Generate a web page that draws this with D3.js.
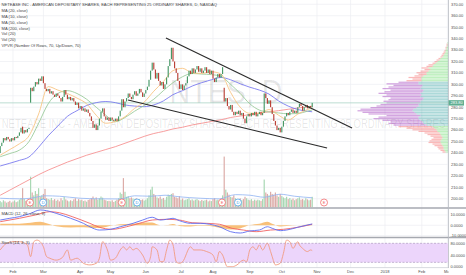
<!DOCTYPE html>
<html><head><meta charset="utf-8">
<script src="https://cdn.jsdelivr.net/npm/d3@7"></script>
<style>html,body{margin:0;padding:0;background:#fff;overflow:hidden}svg{display:block;font-family:"Liberation Sans",Arial,sans-serif}</style>
</head><body><svg id="c" width="466" height="275"></svg>
<script>
// ---------- DATA (daily bars, index 0 = 20 Jan 2017) ----------
const opens = [240,246,249,253,251,254,252,250,253,251,
254,253,255,258,263,257,260,258,261,284,
297,294,298,302,300,305,303,307,301,296,
294,296,292,294,291,289,292,290,288,285,
289,295,291,287,289,286,288,285,282,284,
279,281,277,279,276,278,275,272,268,262,
265,260,264,270,276,279,272,269,271,268,
271,269,268,270,268,272,277,287,280,285,
288,292,289,287,291,294,290,292,296,293,
289,292,295,298,304,312,319,313,305,310,
303,299,302,296,300,306,316,322,332,320,
314,310,303,296,300,295,299,301,307,312,
309,314,310,313,316,311,314,310,312,315,
310,313,309,312,305,302,306,309,306,309,
297,285,288,281,278,282,276,273,276,274,
277,273,275,270,266,272,274,272,275,273,
276,272,274,276,273,275,292,288,283,286,
280,274,268,264,260,262,258,263,268,272,
275,273,276,278,275,277,275,280,283,281,
277,280,282,279,281,280];
const closes = [246,249,253,251,254,252,250,253,251,254,
253,255,258,262,257,260,258,261,262,297,
294,298,302,300,305,303,307,301,296,294,
296,292,294,291,289,292,290,288,285,289,
295,291,287,289,286,288,285,282,284,279,
281,277,279,276,278,275,272,268,262,265,
260,264,270,276,279,272,269,271,268,271,
269,268,270,268,272,277,287,280,285,288,
292,289,287,291,294,290,292,296,293,289,
292,295,298,304,312,319,313,305,310,303,
299,302,296,300,306,316,322,332,320,314,
310,303,296,300,295,299,301,307,312,309,
314,310,313,316,311,314,310,312,315,310,
313,309,312,305,302,306,309,306,309,315,
285,288,281,278,282,276,273,276,274,277,
273,275,270,266,272,274,272,275,273,276,
272,274,276,273,275,292,288,283,286,280,
274,268,264,260,262,258,263,268,272,275,
273,276,278,275,277,275,280,283,281,277,
280,282,279,281,280,283.8];
const volumes = [500,420,560,480,390,450,520,400,470,550,
430,480,600,700,1400,650,520,580,620,2200,
1100,900,1200,1000,1400,800,900,1000,1350,700,
650,600,720,560,640,520,600,480,700,560,
800,620,540,480,560,500,620,700,520,640,
560,600,500,540,460,580,620,700,820,640,
760,600,700,820,740,600,560,500,520,480,
560,440,520,600,700,1100,1000,2100,1150,800,
850,700,760,680,620,700,560,640,580,620,
540,600,700,900,1300,1500,1000,900,760,700,
820,650,720,600,800,950,900,1000,1050,800,
760,700,840,600,680,560,600,640,700,560,
620,540,600,640,560,500,580,520,560,600,
480,540,500,640,700,560,600,520,640,900,
3600,1300,1100,950,800,760,900,700,640,600,
700,560,640,800,700,600,560,640,520,600,
540,600,560,520,640,2000,1100,1000,900,1150,
1000,950,1100,900,800,1000,850,760,700,800,
640,720,600,680,560,640,700,760,600,640,
560,700,620,560,600,800];
const lastPrice = 283.80;

// moving averages at sample bars
const maBars = [0,6,12,18,24,30,36,42,48,54,60,66,72,78,84,90,96,102,108,114,120,126,132,138,144,150,156,162,168,174,180,186,192,195];
const ma10 = [238,243,248,255,274,298,295,292,288,283,273,266,267.5,271.7,279,284.5,294,302.5,312,314,310,309.6,311,309,293,280,274.7,274.7,278,273,268.8,274,278,279.5];
const ma20 = [236.7,239.5,242.5,250,266,283,292,294.5,292,287,280,273,267.3,271,276.5,281.5,287,294.5,301.5,306.7,309.5,309,308.5,307,300,292,283,277.5,275.8,275,274.2,274.5,276.5,277.6];
const ma50 = [228.6,231,233.5,236.5,245,255,263.5,272,277,281.5,284,285,284,282,281,280.5,282,285.5,291,294.5,298.5,301.5,304,306,304,300.5,297.5,295,291.5,285.5,281,278,276.5,276];
const ma200 = [203,207.5,212,216.5,221,225,228.5,232,235,238,240.5,243,245.5,248.5,251.5,254.5,257,258.8,261,262.5,264.5,266,267.5,269,271,272.3,273.5,274.8,276,277,278.2,279.3,280.3,281];

// volume moving average (Vol 20)
const volMaBars = [0,12,19,28,37,50,62,75,84,94,103,112,125,137,147,156,165,175,184,195];
const volMa = [700,660,700,870,840,700,660,650,870,840,910,800,700,660,950,910,770,980,840,735];

// trend lines [bar, price]
const upperTrend = [[103.6,340.5],[219.9,261.8]];
const lowerTrend = [[79.9,286.3],[204.3,244.3]];

// events
const earningsBars = [18.6,76,138.6,202.4];
const dividendBars = [26.8,85.5,148.6];

// MACD (12, 26, close, 9)
const macdBars = [0,6,12,19,25,29,35,44,52,58,62,69,75,83,89,95,100,104,108,112,119,125,131,137,144,150,156,162,167,170,175,179,186,192,195];
const macdLine = [5.1,6.8,8.4,11.6,14.9,14.2,11.6,6.8,1.9,-2.9,-4.6,-3.9,-1.4,1.9,5.1,7.8,5.1,5.8,6.8,4.5,1.9,1.9,1,-1.4,-6.2,-7.5,-5.5,-4.6,-1.4,-2.9,-5.2,-4.6,-1.9,0.3,1.3];
const signalBars = [0,12,22,31,37,45,56,62,70,79,87,95,104,112,120,129,137,145,152,160,169,177,186,195];
const signalLine = [3.5,6.8,10,13.2,12.2,8.4,1.9,-1.9,-3.9,-1.4,1.9,5.1,5.8,5.1,2.5,1.9,1,-3,-4.6,-6.2,-4.6,-3.9,-1.9,1];
const histBars = macdBars;
const histVals = [1.6,1.5,1.6,2.5,3.4,2,-0.9,-2.2,-2,-2.5,-2.7,-0.5,1.1,1.5,2.6,2.7,0,0.2,1.3,-0.6,-1.1,-0.4,-0.8,-2.4,-4,-3,0.2,1.5,3.4,1.5,-1.2,-0.7,0,0.5,0.3];

// Stochastic
const stochBars = [0,4,8,12,17,19,21,23,25,27,29,31,35,39,42,44,48,50,52,56,60,62,64,67,69,72,75,77,79,81,83,85,89,92,94,95,98,100,102,104,106,108,110,112,114,119,121,125,129,133,135,137,139,142,145,148,152,154,156,158,160,162,164,167,169,170,172,175,177,179,181,183,186,187,189,192,194,195];
const stochK = [59,80,85,85,75,38,85,90,85,69,38,33,27,36,59,27,33,27,17,12,17,33,85,59,27,33,59,69,59,69,59,64,43,17,38,69,59,22,22,59,90,75,22,17,22,69,59,59,54,43,22,54,43,6,6,12,27,22,59,69,59,75,59,80,54,38,12,17,48,90,85,64,85,75,64,54,59,57];

// Volume profile (VPVR), 70 rows from 240 upward
const vpLow = 240, vpStep = 1.386;
const vpUp = [3,4,5,5,6,7,8,8,7,6,7,8,9,11,12,14,16,22,25,26,28,30,30,28,32,34,36,35,32,30,30,28,28,26,25,28,27,28,26,25,28,27,26,30,30,27,27,27,25,22,22,20,18,20,16,15,13,11,9,8,6,5,4,3,3,2,2,1,1,1];
const vpDown = [3,4,5,6,8,9,12,11,10,9,11,13,15,19,24,28,34,33,35,32,38,45,40,34,48,52,55,53,46,42,38,34,37,34,33,38,35,42,38,33,38,33,29,32,20,15,9,13,9,8,10,8,6,7,6,5,3,3,3,2,2,2,2,2,1,1,1,1,1,0];
const vaFirstRow = 17, vaLastRow = 44;

// axis labels
const priceTicks = d3.range(200, 371, 10);
const monthLabels = ["Feb","Mar","Apr","May","Jun","Jul","Aug","Sep","Oct","Nov","Dec","2018","Feb","Mar"];
const monthBars = [8,27,50,69,91,113,133,156,176,198,219,240.5,263.5,279.5];
const macdTicks = [10,0,-10];
const stochTicks = [80,40,0];

const legendLines = ["NETEASE INC - AMERICAN DEPOSITARY SHARES, EACH REPRESENTING 25 ORDINARY SHARES, D, NASDAQ",
 "MA (20, close)","MA (10, close)","MA (50, close)","MA (200, close)","Vol (20)","Vol (20)","VPVR (Number Of Rows, 70, Up/Down, 70)"];

// ---------- SCALES ----------
const axisX = 448.5;
const x = d3.scaleLinear().domain([0, 100]).range([0.2, 160.2]);
const yP = d3.scaleLinear().domain([200, 370]).range([198.7, 4.3]);
const yV = d3.scaleLinear().domain([0, 3640]).range([208.3, 156]);
const yM = d3.scaleLinear().domain([-10, 10]).range([235.6, 215]);
const yS = d3.scaleLinear().domain([0, 80]).range([268.7, 243.3]);
const vpx = d3.scaleLinear().domain([0, 100]).range([0, 100]);

const svg = d3.select("#c");
const defs = svg.append("defs");
function clip(id, y0, h){ defs.append("clipPath").attr("id", id).append("rect").attr("x",0).attr("y",y0).attr("width",axisX).attr("height",h); }
clip("cMain", 0, 207.3); clip("cMacd", 208.8, 28); clip("cSto", 238.3, 29.2);
defs.append("clipPath").attr("id","cAll").append("rect").attr("x",0).attr("y",0).attr("width",axisX).attr("height",275);

svg.append("rect").attr("width",466).attr("height",275).attr("fill","#fff");

// ---------- GRID ----------
const grid = svg.append("g").attr("stroke","#eceef2").attr("stroke-width",0.7).attr("clip-path","url(#cAll)");
grid.selectAll("line.v").data(monthBars).join("line").attr("x1",d=>x(d)).attr("x2",d=>x(d)).attr("y1",0).attr("y2",267.5);
grid.selectAll("line.h").data(priceTicks).join("line").attr("x1",0).attr("x2",axisX).attr("y1",d=>yP(d)).attr("y2",d=>yP(d));
grid.selectAll("line.m").data(macdTicks).join("line").attr("x1",0).attr("x2",axisX).attr("y1",d=>yM(d)).attr("y2",d=>yM(d));

// ---------- WATERMARK (condensed via transform) ----------
function squeezed(txt, size, cx, baseY, width){
  const g = svg.append("g").attr("clip-path","url(#cMain)").append("g");
  const t = g.append("text").attr("font-size",size).attr("text-anchor","middle").attr("fill","#000").attr("fill-opacity",0.1).text(txt);
  const w = t.node().getComputedTextLength();
  g.attr("transform",`translate(${cx},${baseY}) scale(${width/w},1)`);
}
squeezed("NTES, D", 34, 226, 103, 113);
squeezed("NETEASE INC - AMERICAN DEPOSITARY SHARES, EACH REPRESENTING 25 ORDINARY SHARES", 13.5, 223.5, 128, 444);

// ---------- VOLUME PROFILE ----------
const vp = svg.append("g").attr("clip-path","url(#cMain)");
vpUp.forEach((u,k)=>{
  const dn = vpDown[k];
  const top = yP(vpLow + (k+1)*vpStep), bot = yP(vpLow + k*vpStep);
  const h = Math.max(0.5, bot-top-0.35);
  const inVA = k>=vaFirstRow && k<=vaLastRow;
  vp.append("rect").attr("x",axisX-vpx(u)).attr("y",top).attr("width",vpx(u)).attr("height",h)
    .attr("fill", inVA ? "rgb(30,150,150)" : "rgb(60,210,60)").attr("fill-opacity", inVA ? 0.38 : 0.33);
  vp.append("rect").attr("x",axisX-vpx(u)-vpx(dn)).attr("y",top).attr("width",vpx(dn)).attr("height",h)
    .attr("fill", inVA ? "rgb(150,40,180)" : "rgb(242,60,60)").attr("fill-opacity", inVA ? 0.42 : 0.36);
});

// current price line
svg.append("line").attr("x1",0).attr("x2",axisX).attr("y1",yP(lastPrice)).attr("y2",yP(lastPrice))
  .attr("stroke","#9fd0bf").attr("stroke-width",0.7);

// ---------- VOLUME ----------
const vol = svg.append("g").attr("clip-path","url(#cMain)");
vol.selectAll("rect").data(volumes).join("rect")
  .attr("x",(d,i)=>x(i)-0.6).attr("width",1.2)
  .attr("y",d=>yV(d)).attr("height",d=>yV(0)-yV(d))
  .attr("fill",(d,i)=> closes[i]>=opens[i] ? "#a9d8b4" : "#dcaca8");
vol.append("path").datum(volMaBars.map((b,i)=>[b,volMa[i]]))
  .attr("d", d3.line().x(d=>x(d[0])).y(d=>yV(d[1])).curve(d3.curveMonotoneX))
  .attr("fill","none").attr("stroke","#8fb3f2").attr("stroke-width",0.8);

// ---------- MAs ----------
const main = svg.append("g").attr("clip-path","url(#cMain)");
const maLine = d3.line().x(d=>x(d[0])).y(d=>yP(d[1])).curve(d3.curveMonotoneX);
[[ma200,"#f58c8c"],[ma50,"#7474ee"],[ma20,"#96c996"],[ma10,"#f8c27c"]].forEach(([arr,col])=>{
  main.append("path").datum(maBars.map((b,i)=>[b,arr[i]])).attr("d",maLine)
    .attr("fill","none").attr("stroke",col).attr("stroke-width",0.85);
});

// ---------- CANDLES ----------
main.selectAll("rect.c").data(closes).join("rect").attr("class","c")
  .attr("x",(d,i)=>x(i)-0.55).attr("width",1.1)
  .attr("y",(d,i)=>yP(Math.max(d,opens[i])))
  .attr("height",(d,i)=>Math.max(0.9, Math.abs(yP(opens[i])-yP(d))))
  .attr("fill",(d,i)=> d>=opens[i] ? "#3f9460" : "#b8392e");

// ---------- TREND LINES ----------
[upperTrend, lowerTrend].forEach(t=>{
  main.append("line").attr("x1",x(t[0][0])).attr("y1",yP(t[0][1])).attr("x2",x(t[1][0])).attr("y2",yP(t[1][1]))
    .attr("stroke","#2b2b2b").attr("stroke-width",1.2);
});

// ---------- EVENTS ----------
const ev = svg.append("g");
function marker(b,col,letter){
  const g = ev.append("g").attr("transform",`translate(${x(b)},202.5)`);
  g.append("circle").attr("r",3.5).attr("fill","#fff").attr("stroke",col).attr("stroke-width",0.7);
  g.append("text").attr("text-anchor","middle").attr("dy","0.35em").attr("font-size",4).attr("fill",col).text(letter);
}
earningsBars.forEach(b=>marker(b,"#ef5b5b","E"));
dividendBars.forEach(b=>marker(b,"#3d9be9","D"));

// ---------- MACD ----------
const mg = svg.append("g").attr("clip-path","url(#cMacd)");
mg.append("path").datum(histBars.map((b,i)=>[b,histVals[i]]))
  .attr("d", d3.area().x(d=>x(d[0])).y0(yM(0)).y1(d=>yM(d[1])).curve(d3.curveMonotoneX))
  .attr("fill","#f7b562").attr("opacity",0.85);
mg.append("path").datum(signalBars.map((b,i)=>[b,signalLine[i]]))
  .attr("d", d3.line().x(d=>x(d[0])).y(d=>yM(d[1])).curve(d3.curveMonotoneX))
  .attr("fill","none").attr("stroke","#f06262").attr("stroke-width",0.9);
mg.append("path").datum(macdBars.map((b,i)=>[b,macdLine[i]]))
  .attr("d", d3.line().x(d=>x(d[0])).y(d=>yM(d[1])).curve(d3.curveMonotoneX))
  .attr("fill","none").attr("stroke","#5f6df2").attr("stroke-width",0.9);

// ---------- STOCH ----------
const sg = svg.append("g").attr("clip-path","url(#cSto)");
sg.append("rect").attr("x",0).attr("width",axisX).attr("y",yS(80)).attr("height",yS(20)-yS(80)).attr("fill","#ecd5fb");
[80,20].forEach(v=> sg.append("line").attr("x1",0).attr("x2",axisX).attr("y1",yS(v)).attr("y2",yS(v))
  .attr("stroke","#a18db5").attr("stroke-width",0.6).attr("stroke-dasharray","2,1.5"));
sg.append("path").datum(stochBars.map((b,i)=>[b,stochK[i]]))
  .attr("d", d3.line().x(d=>x(d[0])).y(d=>yS(d[1])).curve(d3.curveMonotoneX))
  .attr("fill","none").attr("stroke","#f29b80").attr("stroke-width",0.9);

// ---------- PANE SEPARATORS & AXES ----------
svg.append("rect").attr("x",axisX).attr("y",0).attr("width",466-axisX).attr("height",275).attr("fill","#fff");
[208,237.5].forEach(yy=> svg.append("line").attr("x1",0).attr("x2",466).attr("y1",yy).attr("y2",yy).attr("stroke","#a6a9b0").attr("stroke-width",1.5));
svg.append("line").attr("x1",0).attr("x2",axisX).attr("y1",267.6).attr("y2",267.6).attr("stroke","#c9ccd2").attr("stroke-width",0.7);
svg.append("line").attr("x1",axisX).attr("x2",axisX).attr("y1",0).attr("y2",268).attr("stroke","#b9bcc3").attr("stroke-width",0.8);

const ax = svg.append("g").attr("font-size",4).attr("fill","#4d4d4d");
ax.selectAll("text.p").data(priceTicks.filter(v=>Math.abs(yP(v)-yP(lastPrice))>3)).join("text")
  .attr("x",451).attr("y",d=>yP(d)).attr("dy","0.35em").text(d=>d.toFixed(2));
ax.selectAll("text.m").data(macdTicks).join("text").attr("x",450.5).attr("y",d=>yM(d)).attr("dy","0.35em").text(d=>d.toFixed(4));
ax.selectAll("text.s").data(stochTicks).join("text").attr("x",450.5).attr("y",d=>Math.min(yS(d),266.2)).attr("dy","0.35em").text(d=>d.toFixed(4));
// last price tag
svg.append("rect").attr("x",axisX).attr("y",yP(lastPrice)-2.7).attr("width",15.5).attr("height",5.4).attr("fill","#5fae91");
svg.append("text").attr("x",450.5).attr("y",yP(lastPrice)).attr("dy","0.35em").attr("font-size",4).attr("fill","#fff").text(lastPrice.toFixed(2));
// time axis
const tx = svg.append("g").attr("clip-path","url(#cAll)").attr("font-size",4).attr("fill","#4d4d4d");
tx.selectAll("text").data(monthLabels).join("text").attr("x",(d,i)=>x(monthBars[i])).attr("y",272).attr("dy","0.35em")
  .attr("text-anchor","middle").text(d=>d);

// ---------- LEGENDS ----------
const lg = svg.append("g").attr("font-size",4.1).attr("fill","#454545");
legendLines.forEach((t,i)=> lg.append("text").attr("x",1.5).attr("y",5 + i*5.8).attr("dy","0.35em").text(t));
lg.append("text").attr("x",1.5).attr("y",213.5).attr("dy","0.35em").text("MACD (12, 26, close, 9)");
lg.append("text").attr("x",1.5).attr("y",242.8).attr("dy","0.35em").text("Stoch (14, 3, 3)");
</script></body></html>
